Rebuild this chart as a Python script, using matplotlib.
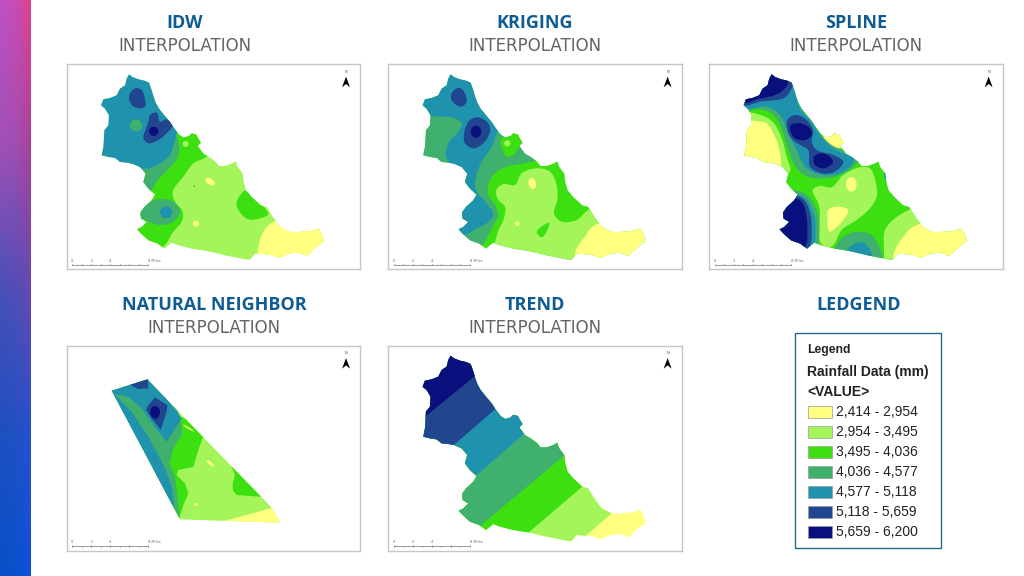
import numpy as np
import matplotlib
matplotlib.use('Agg')
import matplotlib.pyplot as plt
from matplotlib.colors import LinearSegmentedColormap
from matplotlib.patches import Ellipse, Polygon, Rectangle

# rainfall classes, driest to wettest
CLASS_LABELS = ['2,414 - 2,954', '2,954 - 3,495', '3,495 - 4,036', '4,036 - 4,577',
                '4,577 - 5,118', '5,118 - 5,659', '5,659 - 6,200']
CLASS_COLORS = ['#FFFF80', '#A3F55A', '#3CE010', '#3FB06E', '#1F93AE', '#21468F', '#0A0F7E']
YEL, LGR, GRN, SEA, TEA, BLU, NAV = range(7)

# catchment boundary, map units of the trend panel
OUTLINE = [(212, 47), (222, 55), (240, 62), (258, 66), (272, 72), (280, 95), (285, 112), (292, 132),
           (302, 150), (318, 170), (335, 190), (346, 207), (362, 228), (376, 237), (392, 232), (400, 224),
           (414, 228), (420, 240), (428, 252), (418, 262), (435, 285), (452, 295), (470, 308), (482, 322),
           (500, 322), (520, 315), (532, 308), (538, 325), (553, 345), (556, 370), (563, 395), (580, 415),
           (607, 440), (625, 445), (640, 470), (665, 505), (695, 520), (720, 520), (755, 517), (782, 510),
           (790, 525), (798, 547), (775, 565), (760, 578), (745, 592), (720, 582), (690, 585), (660, 598),
           (640, 590), (620, 587), (590, 585), (575, 603), (565, 603), (540, 598), (500, 590), (450, 578),
           (400, 570), (360, 560), (340, 552), (318, 570), (298, 555), (270, 545), (248, 525), (236, 512),
           (250, 505), (265, 490), (248, 480), (246, 462), (258, 445), (280, 425), (290, 408), (270, 390),
           (255, 370), (262, 345), (245, 325), (222, 315), (205, 312), (185, 310), (170, 298), (150, 295),
           (130, 290), (135, 265), (137, 235), (138, 215), (150, 200), (152, 170), (140, 150), (128, 140),
           (135, 122), (155, 118), (175, 110), (185, 90), (200, 80), (205, 60)]

IDW_LAYERS = [
    (LGR, [(0, 0), (900, 0), (900, 620), (0, 620)]),
    (YEL, [(638, 487), (610, 515), (597, 550), (595, 582), (640, 620), (840, 620), (840, 480), (700, 480)]),
    (GRN, [(445, 285), (400, 310), (370, 350), (338, 395), (345, 425), (368, 455), (365, 485), (340, 515),
           (303, 565), (200, 570), (200, 400), (300, 200), (450, 200)]),
    (SEA, [(340, 215), (357, 255), (352, 295), (322, 330), (292, 362), (272, 392), (220, 395), (220, 200)]),
    (SEA, [(250, 440), (290, 418), (340, 425), (360, 455), (340, 485), (300, 495), (255, 480), (230, 460)]),
    (TEA, [(352, 215), (342, 250), (330, 285), (300, 310), (265, 325), (240, 325), (80, 300), (80, 20),
           (300, 20), (365, 190)]),
    (BLU, [(210, 100), (225, 85), (245, 90), (255, 120), (255, 140), (235, 145), (215, 135), (207, 115)]),
    (BLU, [(270, 165), (290, 158), (300, 185), (320, 178), (338, 195), (320, 220), (295, 240), (265, 250),
           (250, 235), (258, 205), (265, 185)]),
    (GRN, [(555, 392), (590, 420), (625, 462), (600, 475), (565, 478), (535, 450), (530, 425), (545, 400)]),
]
IDW_SPOTS = [(SEA, 228, 196, 38, 36, 0), (TEA, 318, 457, 36, 36, 0), (NAV, 281, 214, 28, 28, 0),
             (LGR, 377, 252, 18, 18, 0), (YEL, 450, 365, 32, 18, 35), (YEL, 408, 491, 18, 18, 0),
             (GRN, 403, 378, 6, 6, 0)]

KRIGING_LAYERS = [
    (GRN, [(0, 0), (900, 0), (900, 620), (0, 620)]),
    (LGR, [(348, 392), (370, 372), (405, 375), (425, 340), (470, 325), (510, 335), (530, 375), (532, 420),
           (522, 460), (545, 485), (590, 480), (625, 450), (680, 430), (720, 600), (560, 630), (350, 575),
           (352, 520), (372, 475), (375, 440), (355, 420)]),
    (YEL, [(645, 495), (615, 530), (585, 580), (600, 630), (830, 630), (830, 480)]),
    (SEA, [(475, 295), (430, 310), (375, 322), (340, 345), (325, 375), (325, 405), (345, 435), (355, 465),
           (342, 495), (322, 530), (305, 558), (200, 600), (100, 600), (100, 150), (300, 150), (400, 230)]),
    (GRN, [(365, 235), (395, 215), (430, 240), (415, 265), (400, 285), (380, 290), (370, 275), (362, 250)]),
    (TEA, [(352, 215), (335, 260), (300, 315), (285, 370), (290, 395), (320, 430), (340, 465), (320, 490),
           (290, 505), (255, 525), (225, 520), (225, 440), (270, 400), (240, 370), (255, 340), (210, 310),
           (198, 290), (205, 250), (235, 215), (245, 190), (225, 175), (180, 170), (150, 168), (90, 160),
           (90, 20), (300, 20), (365, 190)]),
    (BLU, [(215, 100), (235, 83), (252, 95), (260, 125), (245, 140), (225, 132), (213, 115)]),
    (BLU, [(270, 180), (295, 172), (325, 190), (330, 215), (310, 250), (280, 265), (255, 250), (252, 220),
           (260, 195)]),
    (GRN, [(470, 515), (508, 488), (497, 520), (485, 532)]),
]
KRIGING_SPOTS = [(NAV, 288, 215, 32, 36, 0), (LGR, 382, 250, 18, 18, 0), (YEL, 457, 371, 22, 34, -15),
                 (YEL, 412, 491, 13, 13, 0)]

SPLINE_LAYERS = [
    (GRN, [(0, 0), (900, 0), (900, 620), (0, 620)]),
    (LGR, [(632, 448), (585, 475), (555, 510), (552, 560), (560, 620), (590, 620), (610, 560), (670, 495),
           (670, 440)]),
    (YEL, [(650, 495), (610, 530), (580, 590), (600, 630), (830, 630), (830, 480)]),
    (LGR, [(338, 390), (360, 378), (395, 382), (430, 345), (480, 322), (510, 325), (528, 370), (530, 410),
           (510, 445), (470, 480), (425, 510), (400, 555), (380, 562), (360, 545), (358, 500), (360, 460),
           (355, 430)]),
    (YEL, [(385, 450), (410, 440), (445, 450), (430, 480), (400, 510), (388, 515), (383, 480)]),
    (SEA, [(400, 575), (430, 530), (480, 515), (520, 530), (545, 610), (400, 600)]),
    (TEA, [(440, 572), (465, 550), (490, 548), (510, 570), (520, 610), (440, 590)]),
    (YEL, [(360, 235), (395, 225), (440, 215), (437, 260), (410, 264), (385, 258)]),
    (LGR, [(100, 160), (190, 168), (222, 190), (247, 240), (260, 290), (270, 335), (230, 345), (90, 320)]),
    (YEL, [(100, 178), (165, 183), (200, 190), (220, 220), (238, 270), (240, 325), (200, 335), (90, 310)]),
    (SEA, [(130, 155), (170, 148), (215, 160), (240, 195), (260, 255), (290, 325), (330, 352), (400, 352),
           (450, 328), (480, 295), (440, 275), (395, 255), (360, 220), (330, 175), (305, 140), (295, 100),
           (285, 50), (90, 50)]),
    (TEA, [(130, 145), (200, 140), (240, 165), (265, 220), (290, 270), (320, 325), (370, 345), (420, 340),
           (455, 315), (462, 295), (430, 280), (395, 262), (360, 225), (335, 185), (302, 150), (290, 110),
           (280, 50), (90, 50)]),
    (BLU, [(130, 135), (180, 125), (250, 115), (270, 95), (280, 60), (200, 20), (90, 60)]),
    (NAV, [(135, 128), (170, 118), (225, 105), (250, 90), (265, 65), (220, 20), (90, 60)]),
    (BLU, [(262, 180), (290, 165), (325, 185), (340, 215), (335, 245), (350, 270), (400, 285), (430, 305),
           (405, 335), (365, 340), (330, 320), (325, 270), (300, 255), (270, 230)]),
    (NAV, [(272, 195), (300, 190), (330, 205), (335, 225), (315, 240), (285, 235), (272, 215)]),
    (NAV, [(342, 290), (365, 280), (395, 295), (398, 310), (370, 325), (345, 315)]),
    (SEA, [(280, 392), (320, 405), (348, 445), (358, 500), (345, 570), (190, 570), (190, 440)]),
    (TEA, [(285, 403), (315, 413), (337, 450), (347, 500), (333, 570), (190, 570), (190, 440)]),
    (BLU, [(288, 408), (310, 418), (328, 450), (335, 500), (322, 570), (190, 570), (190, 440)]),
    (NAV, [(290, 416), (308, 430), (318, 460), (322, 500), (312, 565), (190, 570), (190, 450)]),
    (TEA, [(552, 340), (590, 418), (600, 414), (562, 330)]),
]
SPLINE_SPOTS = [(YEL, 454, 373, 32, 44, 0)]

# natural neighbour only covers the hull of the gauges
NATURAL_HULL = [(155, 152), (262, 118), (430, 292), (635, 503), (660, 548), (480, 542), (360, 538)]
NATURAL_LAYERS = [
    (LGR, [(100, 100), (700, 100), (700, 600), (100, 600)]),
    (YEL, [(636, 503), (570, 522), (478, 546), (680, 570), (680, 500)]),
    (GRN, [(430, 288), (415, 330), (400, 380), (355, 390), (350, 405), (375, 430), (385, 460), (370, 495),
           (358, 535), (280, 500), (280, 200), (440, 260)]),
    (GRN, [(420, 270), (500, 345), (525, 405), (518, 430), (518, 450), (530, 465), (600, 470), (640, 470)]),
    (SEA, [(120, 130), (300, 90), (360, 230), (367, 280), (340, 325), (328, 370), (345, 410), (352, 470),
           (358, 535), (300, 570)]),
    (TEA, [(120, 140), (165, 165), (215, 215), (265, 290), (315, 385), (335, 440), (342, 495), (300, 500)]),
    (TEA, [(140, 150), (262, 100), (365, 235), (320, 305), (280, 255), (245, 205), (205, 170), (165, 162)]),
    (BLU, [(205, 132), (262, 105), (265, 145), (235, 147)]),
    (BLU, [(265, 195), (285, 172), (322, 195), (320, 215), (302, 270), (275, 235), (258, 210)]),
]
NATURAL_SPOTS = [(NAV, 285, 217, 30, 38, 0), (YEL, 385, 264, 38, 5, 32), (YEL, 451, 370, 28, 9, 40),
                 (YEL, 408, 493, 12, 8, -30)]

# trend surface class breaks, each as two points on the dividing line
TREND_CLASSES = [LGR, GRN, SEA, TEA, BLU, NAV]
TREND_BREAKS = [((620, 585), (695, 520)), ((445, 578), (607, 440)), ((298, 560), (555, 345)),
                ((290, 405), (432, 282)), ((225, 312), (345, 208)), ((150, 218), (285, 108))]

PANEL_TITLES = ['IDW', 'KRIGING', 'SPLINE', 'NATURAL NEIGHBOR', 'TREND']
TITLE_X = [185, 535, 856, 214, 535]
TITLE_Y = [22, 22, 22, 304, 304]
# frame in figure pixels, and the map units at the frame's top left corner
PANEL_BOXES = [(66.7, 64.3), (388.3, 64.3), (709.3, 64.3), (66.7, 345.7), (388.3, 345.7)]
PANEL_ORIGINS = [(20, 13), (25, 13), (28, 13), (20, 17), (25, 17)]
TREND_ORIGIN = (25, 17)
FRAME_W, FRAME_H = 880, 615
SCALE_MILES = [0, 2, 4, 8]

# side band colours down its left and right edge
BAND_LEFT = ['#C050C0', '#A050B8', '#4A50B8', '#1E50C0', '#0850C8']
BAND_RIGHT = ['#E0408C', '#A84298', '#6A48B0', '#2850D0', '#1050E0']


def spline(points, steps=8):
    # closed centripetal catmull-rom, goes through the read points
    pts = np.array(points, dtype=float)
    n = len(pts)
    out = []
    for i in range(n):
        p0, p1, p2, p3 = pts[i - 1], pts[i], pts[(i + 1) % n], pts[(i + 2) % n]
        t0 = 0.0
        t1 = t0 + np.linalg.norm(p1 - p0) ** 0.5
        t2 = t1 + np.linalg.norm(p2 - p1) ** 0.5
        t3 = t2 + np.linalg.norm(p3 - p2) ** 0.5
        for t in np.linspace(t1, t2, steps, endpoint=False):
            a1 = (t1 - t) / (t1 - t0) * p0 + (t - t0) / (t1 - t0) * p1
            a2 = (t2 - t) / (t2 - t1) * p1 + (t - t1) / (t2 - t1) * p2
            a3 = (t3 - t) / (t3 - t2) * p2 + (t - t2) / (t3 - t2) * p3
            b1 = (t2 - t) / (t2 - t0) * a1 + (t - t0) / (t2 - t0) * a2
            b2 = (t3 - t) / (t3 - t1) * a2 + (t - t1) / (t3 - t1) * a3
            out.append((t2 - t) / (t2 - t1) * b1 + (t - t1) / (t2 - t1) * b2)
    return np.array(out)


def trend_layers():
    layers = [(YEL, [(0, 0), (900, 0), (900, 620), (0, 620)])]
    for cls, (low, high) in zip(TREND_CLASSES, TREND_BREAKS):
        low, high = np.array(low, float), np.array(high, float)
        d = high - low
        layers.append((cls, [low - d * 5, high + d * 5, (-3000, -3000)]))
    return layers


def draw_furniture(ax, x0, y0):
    # north arrow and scale bar, blurred to near nothing in the original
    ax.add_patch(Polygon([(x0 + 838, y0 + 37), (x0 + 850, y0 + 69), (x0 + 838, y0 + 59), (x0 + 826, y0 + 69)],
                         fc='black', ec='none', zorder=5))
    ax.text(x0 + 838, y0 + 22, 'N', fontsize=2.5, ha='center', va='center', color='#444444')
    bar_y = y0 + 602
    ax.plot([x0 + 17, x0 + 245], [bar_y, bar_y], color='#888888', lw=0.6)
    for i in range(9):
        tick = 4 if i % 2 == 0 else 2
        xt = x0 + 17 + i * 28.5
        ax.plot([xt, xt], [bar_y - tick, bar_y + 1], color='#888888', lw=0.5)
    for mile in SCALE_MILES:
        label = '8 Miles' if mile == 8 else str(mile)
        ax.text(x0 + 17 + mile * 28.5, bar_y - 12, label, fontsize=2.6, ha='left' if mile == 8 else 'center',
                va='center', color='#666666')


def draw_map(fig, box, origin, layers, spots, hull, curved):
    W, H = 1024, 576
    px, py = box
    w_px, h_px = FRAME_W / 3, FRAME_H / 3
    ax = fig.add_axes([px / W, 1 - (py + h_px) / H, w_px / W, h_px / H])
    x0, y0 = origin
    ax.set_xlim(x0, x0 + FRAME_W)
    ax.set_ylim(y0 + FRAME_H, y0)
    ax.set_xticks([])
    ax.set_yticks([])
    for sp in ax.spines.values():
        sp.set_color('#C6C6C6')
        sp.set_linewidth(1.0)

    clip = Polygon(hull, closed=True, fc='none', ec='none', transform=ax.transData)
    ax.add_patch(clip)
    for cls, pts in layers:
        patch = Polygon(spline(pts) if curved else pts, closed=True, fc=CLASS_COLORS[cls], ec='none')
        ax.add_patch(patch)
        patch.set_clip_path(clip)
    for cls, cx, cy, w, h, angle in spots:
        patch = Ellipse((cx, cy), w, h, angle=angle, fc=CLASS_COLORS[cls], ec='none')
        ax.add_patch(patch)
        patch.set_clip_path(clip)
    draw_furniture(ax, x0, y0)
    return ax


fig = plt.figure(figsize=(10.24, 5.76), dpi=100, facecolor='white')

# full figure layer in pixel coordinates for the slide furniture
bg = fig.add_axes([0, 0, 1, 1])
bg.set_xlim(0, 1024)
bg.set_ylim(576, 0)
bg.axis('off')
ys = np.linspace(0, 1, 288)
left = LinearSegmentedColormap.from_list('left', BAND_LEFT)(ys)[:, :3]
right = LinearSegmentedColormap.from_list('right', BAND_RIGHT)(ys)[:, :3]
mix = np.linspace(0, 1, 31).reshape(1, -1, 1) ** 2
band = left[:, None, :] * (1 - mix) + right[:, None, :] * mix
bg.imshow(band, extent=[0, 31, 576, 0], aspect='auto')
bg.set_xlim(0, 1024)
bg.set_ylim(576, 0)

for name, x, y in zip(PANEL_TITLES, TITLE_X, TITLE_Y):
    bg.text(x, y + 1, name, family='Open Sans', fontsize=13, fontweight='bold', color='#0F5C94',
            ha='center', va='center')
    bg.text(x, y + 24, 'INTERPOLATION', family='DejaVu Sans', fontsize=12, color='#646464',
            ha='center', va='center')
bg.text(859, 305, 'LEDGEND', family='Open Sans', fontsize=13, fontweight='bold', color='#0F5C94',
        ha='center', va='center')

# legend box
bg.add_patch(Rectangle((795, 332.5), 146, 215, fc='white', ec='#1F6A8A', lw=1.0))
LEG = 'Liberation Sans'
bg.text(807, 350, 'Legend', family=LEG, fontsize=8.8, fontweight='bold', color='#222222', va='center')
bg.text(807, 372, 'Rainfall Data (mm)', family=LEG, fontsize=10, fontweight='bold', color='#222222', va='center')
bg.text(807, 392, '<VALUE>', family=LEG, fontsize=10, fontweight='bold', color='#222222', va='center')
for i, (label, color) in enumerate(zip(CLASS_LABELS, CLASS_COLORS)):
    y = 406 + i * 20
    bg.add_patch(Rectangle((807.5, y), 24, 12, fc=color, ec='#999999', lw=0.5))
    bg.text(835.5, y + 6.5, label, family=LEG, fontsize=10, color='#222222', va='center')

panel_layers = [IDW_LAYERS, KRIGING_LAYERS, SPLINE_LAYERS, NATURAL_LAYERS, trend_layers()]
panel_spots = [IDW_SPOTS, KRIGING_SPOTS, SPLINE_SPOTS, NATURAL_SPOTS, []]
panel_curved = [True, True, True, False, False]

for i in range(5):
    ox, oy = PANEL_ORIGINS[i]
    if i == 3:
        hull = NATURAL_HULL
    else:
        hull = [(x - TREND_ORIGIN[0] + ox, y - TREND_ORIGIN[1] + oy) for x, y in OUTLINE]
    draw_map(fig, PANEL_BOXES[i], PANEL_ORIGINS[i], panel_layers[i], panel_spots[i], hull, panel_curved[i])

fig.savefig('out.png', dpi=100)
